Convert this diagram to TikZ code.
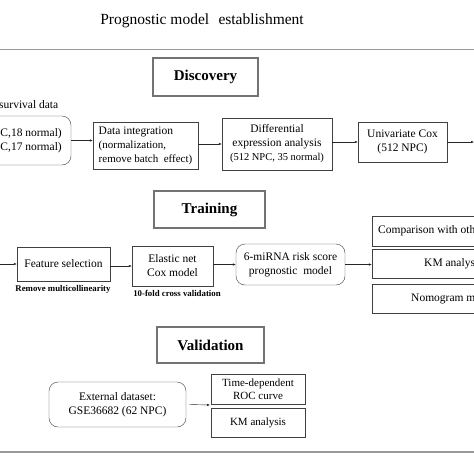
\documentclass[tikz,border=0pt]{standalone}
\usepackage{fontspec}
\setmainfont{Liberation Serif}
\usetikzlibrary{arrows.meta,shadows}
\tikzset{
  box/.style={draw=black!75, thin, fill=white, inner sep=2pt, align=center,
    font=\fontsize{11.5}{14}\selectfont},
  rbox/.style={box, rounded corners=9pt},
  stage/.style={draw=black!55, line width=1.4pt, fill=white,
    font=\fontsize{15}{18}\selectfont\bfseries,
    drop shadow={shadow xshift=1pt, shadow yshift=-1.2pt, fill=black!60, opacity=1}},
  note/.style={font=\fontsize{8.8}{10}\selectfont\bfseries},
  arr/.style={-{Latex[length=3pt,width=2.4pt]}, black!85, thin},
  rule/.style={draw=black!40, line width=#1},
}
\begin{document}
\begin{tikzpicture}[x=1pt,y=-1pt]
\useasboundingbox (0,0) rectangle (474,474);
\clip (0,0) rectangle (474,474);
\node (title) at (202,21) {\fontsize{15.5}{18}\selectfont Prognostic model\hspace{0.6em}establishment};
\coordinate (r1) at (0,49);
\coordinate (r2) at (474,49);
\draw[rule=1pt] (r1) -- (r2);
% discovery
\node[stage, minimum width=105pt, minimum height=38pt] (s1) at (205.5,77) {Discovery};
\node[anchor=west, inner sep=0pt, font=\fontsize{11.5}{14}\selectfont] (surv) at (-1,105) {survival data};
\node[rbox, minimum width=111pt, minimum height=49pt] (d1) at (15.5,140.5) {};
\node[anchor=east, align=right, inner sep=0pt, font=\fontsize{11.5}{14}\selectfont] (d1t) at (62,141) {NPC,18 normal)\\NPC,17 normal)};
\node[box, align=left, minimum width=105pt, minimum height=47pt] (d2) at (145.5,145.5) {Data integration\\{\fontsize{11}{13}\selectfont(normalization,}\\{\fontsize{11}{13}\selectfont remove batch\ \ effect)}};
\node[box, minimum width=110pt, minimum height=52pt] (d3) at (277,144) {Differential\\expression analysis\\{\fontsize{10.5}{13}\selectfont(512 NPC, 35 normal)}};
\node[box, minimum width=89pt, minimum height=40pt] (d4) at (402.5,142) {Univariate Cox\\(512 NPC)};
\coordinate (d5) at (474,142);
\draw[arr] (d1.east) -- (d1.east -| d2.west);
\draw[arr] (d2.east |- d3.west) -- (d3.west);
\draw[arr] (d3.east |- d4.west) -- (d4.west);
\draw[arr] (d4.east) -- (d5);
% training
\node[stage, minimum width=111pt, minimum height=37pt] (s2) at (209.5,209.5) {Training};
\coordinate (t0) at (0,264);
\node[box, minimum width=93pt, minimum height=34pt] (t1) at (63.5,264) {Feature selection};
\node[note] (n1) at (63,289) {Remove multicollinearity};
\node[box, minimum width=81pt, minimum height=40pt] (t2) at (172.5,266) {Elastic net\\Cox model};
\node[note] (n2) at (177,293) {10-fold cross validation};
\node[rbox, minimum width=109pt, minimum height=41pt] (t3) at (290.5,264.5) {6-miRNA risk score\\prognostic\ \ model};
\node[box, minimum width=158pt, minimum height=30pt] (o1) at (451,231) {};
\node[anchor=west, inner sep=0pt, font=\fontsize{11.5}{14}\selectfont] (o1t) at (378,231) {Comparison with oth};
\node[box, minimum width=158pt, minimum height=29pt] (o2) at (451,263.5) {};
\node[anchor=west, inner sep=0pt, font=\fontsize{11.5}{14}\selectfont] (o2t) at (424,264) {KM analys};
\node[box, minimum width=158pt, minimum height=29pt] (o3) at (451,298.5) {};
\node[anchor=west, inner sep=0pt, font=\fontsize{11.5}{14}\selectfont] (o3t) at (411,299) {Nomogram mo};
\draw[arr] (t0) -- (t1.west);
\draw[arr] (t1.east |- t2.west) -- (t2.west);
\draw[arr] (t2.east |- t3.west) -- (t3.west);
\draw[arr] (t3.east) -- (t3.east -| o2.west);
% validation
\node[stage, minimum width=107pt, minimum height=36pt] (s3) at (210.5,345) {Validation};
\node[rbox, minimum width=137pt, minimum height=45pt] (v1) at (117.5,404.5) {External dataset:\\GSE36682 (62 NPC)};
\node[box, minimum width=94pt, minimum height=30pt, font=\fontsize{11}{13}\selectfont] (v2) at (258,389) {Time-dependent\\ROC curve};
\node[box, minimum width=94pt, minimum height=29pt, font=\fontsize{11}{13}\selectfont] (v3) at (258,422.5) {KM analysis};
\coordinate (v4) at (210,405);
\draw[arr] (v1.east) ++(3,0) coordinate (v0) -- (v4);
\coordinate (r3) at (0,452);
\coordinate (r4) at (474,452);
\draw[rule=1.6pt] (r3) -- (r4);
\end{tikzpicture}
\end{document}
